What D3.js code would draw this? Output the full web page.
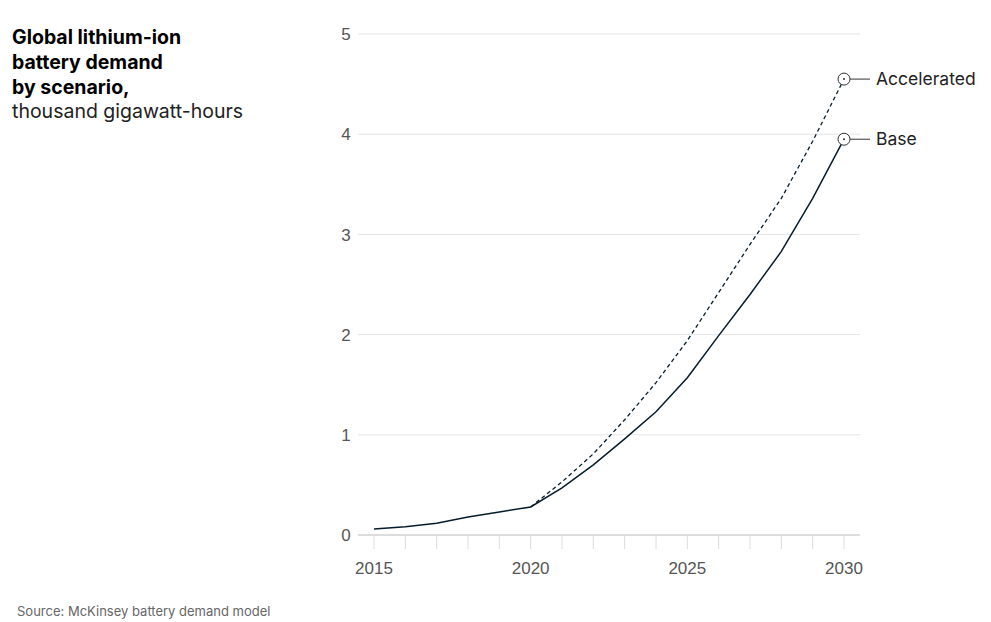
<!DOCTYPE html>
<html><head><meta charset="utf-8">
<script src="https://cdn.jsdelivr.net/npm/d3@7"></script>
<style>
html,body{margin:0;padding:0;background:#fff;}
svg{display:block;font-family:"Liberation Sans",Arial,sans-serif;}
.inter{font-family:Inter,"Liberation Sans",sans-serif;}
</style></head>
<body><svg id="chart" width="991" height="622"></svg>
<script>
const years = [2015,2016,2017,2018,2019,2020,2021,2022,2023,2024,2025,2026,2027,2028,2029,2030];
const baseValues = [0.06,0.083,0.117,0.18,0.23,0.28,0.47,0.70,0.96,1.23,1.57,1.99,2.40,2.83,3.36,3.95];
const accelYears = [2020,2021,2022,2023,2024,2025,2026,2027,2028,2029,2030];
const accelValues = [0.28,0.53,0.81,1.15,1.52,1.94,2.42,2.90,3.36,3.93,4.55];
const yTicks = [0,1,2,3,4,5];
const xTickLabels = [2015,2020,2025,2030];
const titleLines = ["Global lithium-ion","battery demand","by scenario,"];
const subtitle = "thousand gigawatt-hours";
const source = "Source: McKinsey battery demand model";

const svg = d3.select("#chart");
const x = d3.scaleLinear().domain([2015,2030]).range([374,844]);
const y = d3.scaleLinear().domain([0,5]).range([535,34]);
const ink = "#051c2c";

svg.append("g").selectAll("line").data(yTicks.filter(d=>d>0)).join("line")
  .attr("x1",358).attr("x2",860).attr("y1",d=>y(d)).attr("y2",d=>y(d))
  .attr("stroke","#e5e5e5").attr("stroke-width",1);
svg.append("line").attr("x1",358).attr("x2",860).attr("y1",y(0)).attr("y2",y(0))
  .attr("stroke","#dcdcdc").attr("stroke-width",2);
svg.append("g").selectAll("line").data(years).join("line")
  .attr("x1",d=>x(d)).attr("x2",d=>x(d)).attr("y1",y(0)+1).attr("y2",y(0)+14)
  .attr("stroke","#dcdcdc").attr("stroke-width",1);
svg.append("g").selectAll("text").data(yTicks).join("text")
  .attr("x",346).attr("y",d=>y(d)).attr("dy","0.36em").attr("text-anchor","middle")
  .attr("font-size",17).attr("fill","#555").text(d=>d);
svg.append("g").selectAll("text").data(xTickLabels).join("text")
  .attr("x",d=>x(d)).attr("y",574).attr("text-anchor","middle")
  .attr("font-size",17).attr("fill","#555").text(d=>d);

const line = d3.line().x(d=>x(d[0])).y(d=>y(d[1]));
svg.append("path").datum(accelYears.map((yr,i)=>[yr,accelValues[i]]))
  .attr("d",line).attr("fill","none").attr("stroke",ink).attr("stroke-width",1.3)
  .attr("stroke-dasharray","4,3");
svg.append("path").datum(years.map((yr,i)=>[yr,baseValues[i]]))
  .attr("d",line).attr("fill","none").attr("stroke",ink).attr("stroke-width",1.5);

const ends = [["Accelerated",accelValues[accelValues.length-1]],["Base",baseValues[baseValues.length-1]]];
ends.forEach(([name,v])=>{
  const cx = x(2030), cy = y(v);
  svg.append("circle").attr("cx",cx).attr("cy",cy).attr("r",6)
    .attr("fill","#fff").attr("stroke","#333").attr("stroke-width",1);
  svg.append("circle").attr("cx",cx).attr("cy",cy).attr("r",1).attr("fill","#333");
  svg.append("line").attr("x1",cx+6).attr("x2",cx+26).attr("y1",cy).attr("y2",cy)
    .attr("stroke","#333").attr("stroke-width",1);
  svg.append("text").attr("class","inter").attr("x",cx+32).attr("y",cy).attr("dy","0.35em")
    .attr("font-size",17.5).attr("fill","#222").text(name);
});

const t = svg.append("text").attr("class","inter").attr("x",12).attr("font-size",19.5).attr("fill","#000");
titleLines.forEach((s,i)=>{
  t.append("tspan").attr("x",12).attr("y",44+i*24.8).attr("font-weight","bold").text(s);
});
t.append("tspan").attr("x",12).attr("y",44+3*24.8).attr("fill","#222").text(subtitle);

svg.append("text").attr("class","inter").attr("x",17).attr("y",616).attr("font-size",13).attr("fill","#666").text(source);
</script></body></html>
